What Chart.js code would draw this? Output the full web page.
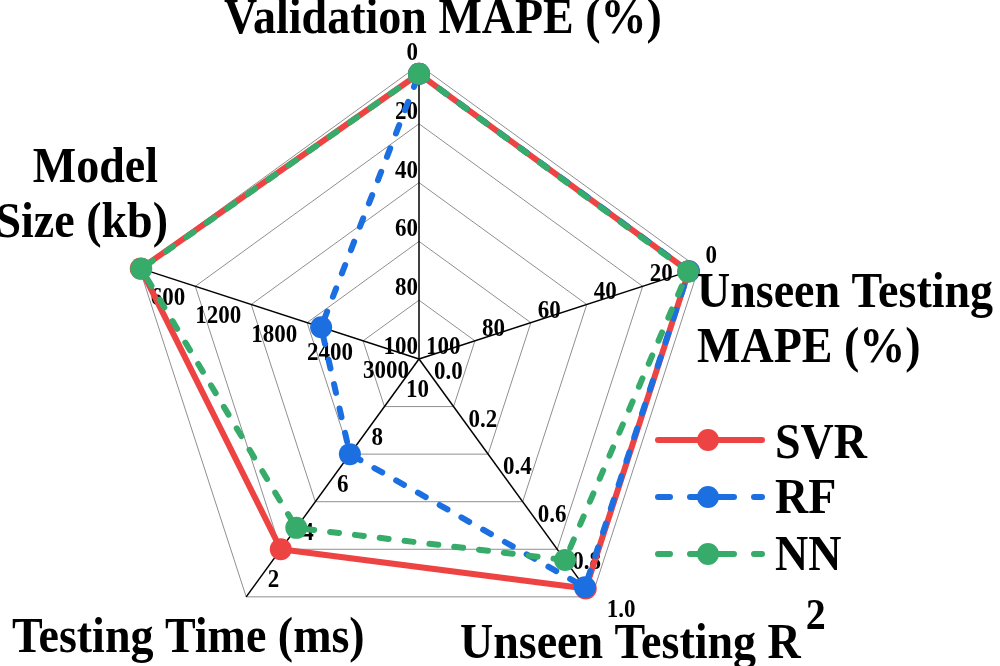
<!DOCTYPE html>
<html>
<head>
<meta charset="utf-8">
<script src="https://cdn.jsdelivr.net/npm/chart.js@4"></script>
<style>
  html, body { margin: 0; padding: 0; background: #fff; }
  #radar { display: block; }
</style>
</head>
<body>
<canvas id="radar" width="1000" height="666"></canvas>
<script>
// axes, clockwise from the top
const axisNames = ['Validation MAPE (%)', 'Unseen Testing MAPE (%)', 'Unseen Testing R²', 'Testing Time (ms)', 'Model Size (kb)']
const axisCenterValue = [100, 100, 0, 10, 3000]
const axisOuterValue = [0, 0, 1, 0, 0]

// tick labels per axis, from the centre outwards
const tickValues = [
  [100, 80, 60, 40, 20, 0],
  [100, 80, 60, 40, 20, 0],
  [0, 0.2, 0.4, 0.6, 0.8, 1.0],
  [10, 8, 6, 4, 2],
  [3000, 2400, 1800, 1200, 600]
]
const tickLabels = [
  ['100', '80', '60', '40', '20', '0'],
  ['100', '80', '60', '40', '20', '0'],
  ['0.0', '0.2', '0.4', '0.6', '0.8', '1.0'],
  ['10', '8', '6', '4', '2'],
  ['3000', '2400', '1800', '1200', '600']
]

const seriesNames = ['SVR', 'RF', 'NN']
const svrValues = [3, 3.5, 0.965, 2.0, 15]
const rfValues = [3, 3.5, 0.96, 6.0, 1950]
const nnValues = [3, 3.8, 0.845, 2.9, 20]

const colors = ['#ee4343', '#1c6fe0', '#36ab6a']

// every axis has its own range, so map to 0..1 for the radial scale
function toFraction(v, i) {
  return (v - axisCenterValue[i]) / (axisOuterValue[i] - axisCenterValue[i])
}

const serif = '"Liberation Serif", "Times New Roman", serif'

const labelPlace = [
  { align: 'right', dx: -1, dy: -5 },
  { align: 'left', dx: 7, dy: -5 },
  { align: 'left', dx: 15, dy: 20 },
  { align: 'left', dx: -13, dy: 38 },
  { align: 'right', dx: -10, dy: 19 }
]

// the reference type is a little taller than Liberation Serif, so stretch it
function tallText(ctx, text, x, y, size, align, sy) {
  ctx.save()
  ctx.font = 'bold ' + size + 'px ' + serif
  ctx.textAlign = align
  ctx.translate(x, y)
  ctx.scale(1, sy)
  ctx.fillText(text, 0, 0)
  ctx.restore()
}

const tickLabelPlugin = {
  id: 'tickLabelPlugin',
  beforeDatasetsDraw(chart) {
    const ctx = chart.ctx
    const scale = chart.scales.r
    ctx.save()
    ctx.fillStyle = '#000'
    ctx.textBaseline = 'alphabetic'
    tickValues.forEach((vals, i) => {
      vals.forEach((v, k) => {
        const p = scale.getPointPosition(i, scale.getDistanceFromCenterForValue(toFraction(v, i)))
        tallText(ctx, tickLabels[i][k], p.x + labelPlace[i].dx, p.y + labelPlace[i].dy, 23, labelPlace[i].align, 1.08)
      })
    })
    ctx.restore()
  }
}

const titlePlugin = {
  id: 'titlePlugin',
  afterDraw(chart) {
    const ctx = chart.ctx
    const sy = 1.12
    ctx.save()
    ctx.fillStyle = '#000'
    ctx.textBaseline = 'alphabetic'

    tallText(ctx, axisNames[0], 443, 33, 46, 'center', sy)
    tallText(ctx, 'Unseen Testing', 697, 307, 46, 'left', sy)
    tallText(ctx, 'MAPE (%)', 697, 362, 46, 'left', sy)

    tallText(ctx, 'Unseen Testing R', 460, 658, 46, 'left', sy)
    ctx.font = 'bold 46px ' + serif
    const w = ctx.measureText('Unseen Testing R').width
    tallText(ctx, '2', 460 + w + 5, 629, 40, 'left', sy)

    tallText(ctx, axisNames[3], 12, 652, 46, 'left', sy)
    tallText(ctx, 'Model', 158, 182, 46, 'right', sy)
    tallText(ctx, 'Size (kb)', 168, 237, 46, 'right', sy)

    // legend
    const rows = [440, 497, 554]
    const baselines = [458, 513, 570]
    seriesNames.forEach((name, i) => {
      const y = rows[i]
      ctx.strokeStyle = colors[i]
      ctx.fillStyle = colors[i]
      ctx.lineWidth = 6
      ctx.lineCap = 'round'
      ctx.beginPath()
      if (i === 0) {
        ctx.moveTo(658, y); ctx.lineTo(762, y)
      } else {
        ctx.moveTo(658, y); ctx.lineTo(670, y)
        ctx.moveTo(690, y); ctx.lineTo(734, y)
        ctx.moveTo(754, y); ctx.lineTo(762, y)
      }
      ctx.stroke()
      ctx.beginPath()
      ctx.arc(708, y, 11, 0, Math.PI * 2)
      ctx.fill()
      ctx.fillStyle = '#000'
      tallText(ctx, name, 775, baselines[i], 46, 'left', sy)
    })
    ctx.restore()
  }
}

function makeSet(label, values, i, dashed, order) {
  return {
    label: label,
    data: values.map(toFraction),
    borderColor: colors[i],
    backgroundColor: colors[i],
    borderWidth: 6,
    borderDash: dashed ? [9, 16] : [],
    borderCapStyle: 'round',
    borderJoinStyle: 'round',
    fill: false,
    tension: 0,
    pointRadius: 11,
    pointBorderWidth: 0,
    pointBackgroundColor: colors[i],
    order: order
  }
}

const chart = new Chart(document.getElementById('radar'), {
  type: 'radar',
  data: {
    labels: axisNames,
    datasets: [
      makeSet(seriesNames[0], svrValues, 0, false, 3),
      makeSet(seriesNames[1], rfValues, 1, true, 2),
      makeSet(seriesNames[2], nnValues, 2, true, 1)
    ]
  },
  options: {
    responsive: false,
    animation: false,
    layout: { padding: { left: 125, right: 287, top: 65, bottom: 13 } },
    plugins: {
      legend: { display: false },
      tooltip: { enabled: false }
    },
    scales: {
      r: {
        min: 0,
        max: 1,
        ticks: { display: false, stepSize: 0.2 },
        grid: { color: '#8f8f8f', lineWidth: 1 },
        angleLines: { color: '#000', lineWidth: 1.5 },
        pointLabels: { display: false }
      }
    }
  },
  plugins: [tickLabelPlugin, titlePlugin]
})
</script>
</body>
</html>
